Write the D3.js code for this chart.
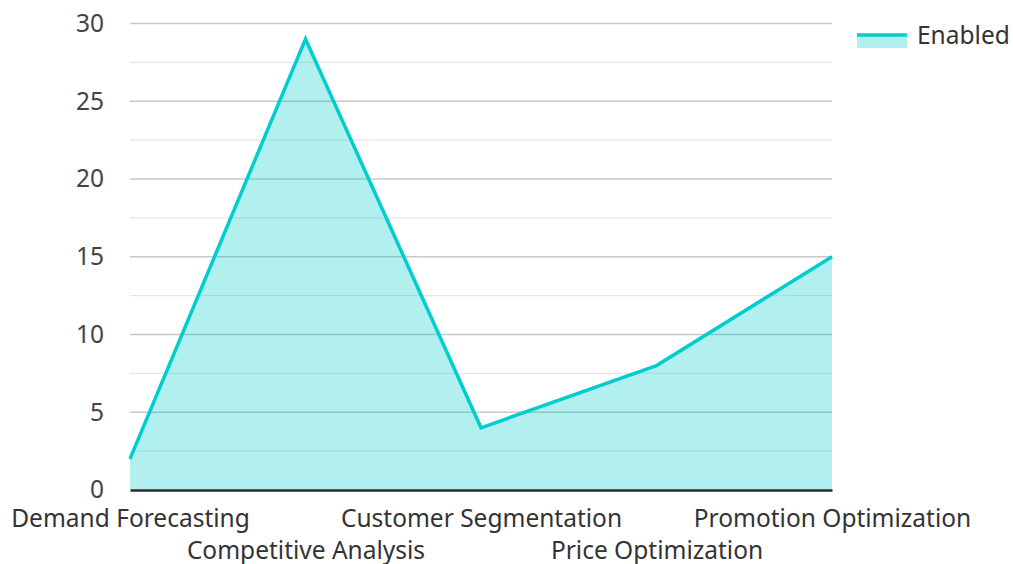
<!DOCTYPE html>
<html>
<head>
<meta charset="utf-8">
<script src="https://cdn.jsdelivr.net/npm/d3@7"></script>
<style>
  body { margin: 0; background: #ffffff; }
  text { font-family: "Noto Sans", "Open Sans", sans-serif; }
</style>
</head>
<body>
<svg></svg>
<script>
// Chart data
const categories = ["Demand Forecasting", "Competitive Analysis", "Customer Segmentation", "Price Optimization", "Promotion Optimization"];
const enabledValues = [2, 29, 4, 8, 15];
const yTicks = [0, 5, 10, 15, 20, 25, 30];
const yMinorTicks = [2.5, 7.5, 12.5, 17.5, 22.5, 27.5];
const seriesName = "Enabled";

const svgWidth = 1013, svgHeight = 564;
const margin = { top: 23.5, right: 181, bottom: 74, left: 130 };
const chartWidth = svgWidth - margin.left - margin.right;
const chartHeight = svgHeight - margin.top - margin.bottom;

const lineColor = "#00cdcd";
const fontSize = "24.5px";

const svg = d3.select("svg")
    .attr("width", svgWidth)
    .attr("height", svgHeight);

const chart = svg.append("g")
    .attr("transform", `translate(${margin.left},${margin.top})`);

// Scales
const xScale = d3.scalePoint().domain(categories).range([0, chartWidth]);
const yScale = d3.scaleLinear().domain([0, 30]).range([chartHeight, 0]);

// Minor gridlines
chart.selectAll(".minor")
    .data(yMinorTicks)
    .enter().append("line")
    .attr("x1", 0).attr("x2", chartWidth)
    .attr("y1", d => yScale(d)).attr("y2", d => yScale(d))
    .attr("stroke", "#e6e6e6")
    .attr("stroke-width", 1.3);

// Major gridlines
chart.selectAll(".major")
    .data(yTicks.filter(d => d > 0))
    .enter().append("line")
    .attr("x1", 0).attr("x2", chartWidth)
    .attr("y1", d => yScale(d)).attr("y2", d => yScale(d))
    .attr("stroke", "#c8c8c8")
    .attr("stroke-width", 1.3);

// Area
const data = categories.map((c, i) => ({ cat: c, value: enabledValues[i] }));

chart.append("path")
    .datum(data)
    .attr("fill", lineColor)
    .attr("fill-opacity", 0.3)
    .attr("d", d3.area()
        .x(d => xScale(d.cat))
        .y0(chartHeight)
        .y1(d => yScale(d.value)));

chart.append("path")
    .datum(data)
    .attr("fill", "none")
    .attr("stroke", lineColor)
    .attr("stroke-width", 3.5)
    .attr("stroke-linejoin", "miter")
    .attr("d", d3.line()
        .x(d => xScale(d.cat))
        .y(d => yScale(d.value)));

// Y axis labels
const yAxis = chart.append("g")
    .call(d3.axisLeft(yScale).tickValues(yTicks).tickSize(0).tickPadding(26));
yAxis.select(".domain").remove();
yAxis.selectAll("text")
    .attr("fill", "#444")
    .style("font-size", fontSize)
    .style("font-family", "'Noto Sans', sans-serif");

// X axis
const xAxis = chart.append("g")
    .attr("transform", `translate(0,${chartHeight})`)
    .call(d3.axisBottom(xScale).tickSize(0).tickPadding(0));
xAxis.select(".domain")
    .attr("stroke", "#2b2b2b")
    .attr("stroke-width", 2.5);
xAxis.selectAll("text")
    .attr("fill", "#333")
    .attr("dy", null)
    .attr("y", (d, i) => i % 2 === 0 ? 37 : 69)
    .style("font-size", fontSize)
    .style("font-family", "'Noto Sans', sans-serif");

// Legend
const legend = svg.append("g")
    .attr("transform", "translate(857,0)");
legend.append("rect")
    .attr("x", 0).attr("y", 35)
    .attr("width", 50).attr("height", 13)
    .attr("fill", lineColor)
    .attr("fill-opacity", 0.3);
legend.append("line")
    .attr("x1", 0).attr("x2", 50)
    .attr("y1", 35).attr("y2", 35)
    .attr("stroke", lineColor)
    .attr("stroke-width", 3.5);
legend.append("text")
    .attr("x", 60).attr("y", 44)
    .attr("fill", "#333")
    .style("font-size", fontSize)
    .text(seriesName);
</script>
</body>
</html>
